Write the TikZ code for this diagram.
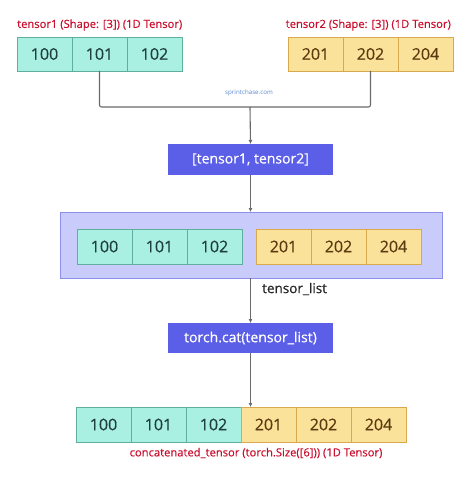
\documentclass[tikz,border=0pt]{standalone}
\usepackage{fontspec}
\setmainfont{Open Sans}
\newfontfamily\medfont{Open Sans}[FakeBold=0.5]
\usetikzlibrary{arrows.meta,positioning}

\definecolor{tealfill}{HTML}{AAF0E2}
\definecolor{tealline}{HTML}{5FAE9E}
\definecolor{tealtext}{HTML}{1E3F3C}
\definecolor{yelfill}{HTML}{FBE29B}
\definecolor{yelline}{HTML}{D9A94E}
\definecolor{yeltext}{HTML}{5A3A0E}
\definecolor{oplabel}{HTML}{5B5EE6}
\definecolor{listfill}{HTML}{C9CCFA}
\definecolor{listline}{HTML}{8C8FEE}
\definecolor{namered}{HTML}{C8102E}
\definecolor{wire}{HTML}{6A6A6A}
\definecolor{wmark}{HTML}{5A86D0}

\tikzset{
  cell/.style={draw, line width=0.8pt, minimum width=55pt, minimum height=34pt,
    inner sep=0pt, outer sep=0pt, font=\medfont\fontsize{16}{18}\selectfont},
  tcell/.style={cell, fill=tealfill, draw=tealline, text=tealtext},
  ycell/.style={cell, fill=yelfill, draw=yelline, text=yeltext},
  opbox/.style={fill=oplabel, text=white, minimum width=165pt, inner sep=0pt,
    outer sep=0pt, font=\medfont\fontsize{14}{16}\selectfont},
  tname/.style={text=namered, font=\medfont\fontsize{11.2}{13}\selectfont, inner sep=0pt},
  wire/.style={draw=wire, line width=1.1pt, rounded corners=2pt},
  flow/.style={wire, -{Latex[length=4pt,width=4pt]}}
}

\begin{document}
\begin{tikzpicture}[x=1pt,y=-1pt]
\useasboundingbox (0,0) rectangle (474,478);

% input tensors
\node[tname, anchor=west] (n1) at (17,25) {tensor1 (Shape: [3]) (1D Tensor)};
\node[tname, anchor=east] (n2) at (451,25) {tensor2 (Shape: [3]) (1D Tensor)};
\foreach \v [count=\i] in {100,101,102}
  \node[tcell] (a\i) at (-10.5+55*\i,54) {\v};
\foreach \v [count=\i] in {201,202,204}
  \node[ycell] (b\i) at (260.5+55*\i,54) {\v};

\node[text=wmark, font=\fontsize{6.2}{7}\selectfont] (wm) at (249,93) {sprintchase.com};
\coordinate (join) at (250,107);

% list of tensors
\node[opbox, minimum height=31pt] (pack) at (250.5,159.5) {[tensor1, tensor2]};
\node[draw=listline, fill=listfill, line width=0.8pt, minimum width=382pt,
  minimum height=66pt, outer sep=0pt] (lst) at (251,245) {};
\foreach \v [count=\i] in {100,101,102}
  \node[tcell, minimum height=35pt] (la\i) at (49.5+55*\i,246.5) {\v};
\foreach \v [count=\i] in {201,202,204}
  \node[ycell, minimum height=35pt] (lb\i) at (228.5+55*\i,246.5) {\v};
\node[anchor=west, font=\medfont\fontsize{13.5}{15}\selectfont, text=black!85, inner sep=0pt] (lname) at (262,289) {tensor\_list};

% concatenation
\node[opbox, minimum height=30pt] (cat) at (250.5,338) {torch.cat(tensor\_list)};
\foreach \v [count=\i] in {100,101,102}
  \node[tcell, minimum height=35pt] (ca\i) at (48.5+55*\i,424.5) {\v};
\foreach \v [count=\i] in {201,202,204}
  \node[ycell, minimum height=35pt] (cb\i) at (213.5+55*\i,424.5) {\v};
\node[tname] (n3) at (256,453) {concatenated\_tensor (torch.Size([6])) (1D Tensor)};

% connectors
\draw[wire] (a2.south) |- (join);
\draw[wire] (b2.south) |- (join);
\draw[flow] (join) -- (pack.north);
\draw[flow] (pack.south) -- (lst.north -| pack.south);
\draw[flow] (lst.south -| pack.south) -- (cat.north);
\draw[flow] (cat.south) -- (cat.south |- cb1.north);
\end{tikzpicture}
\end{document}
